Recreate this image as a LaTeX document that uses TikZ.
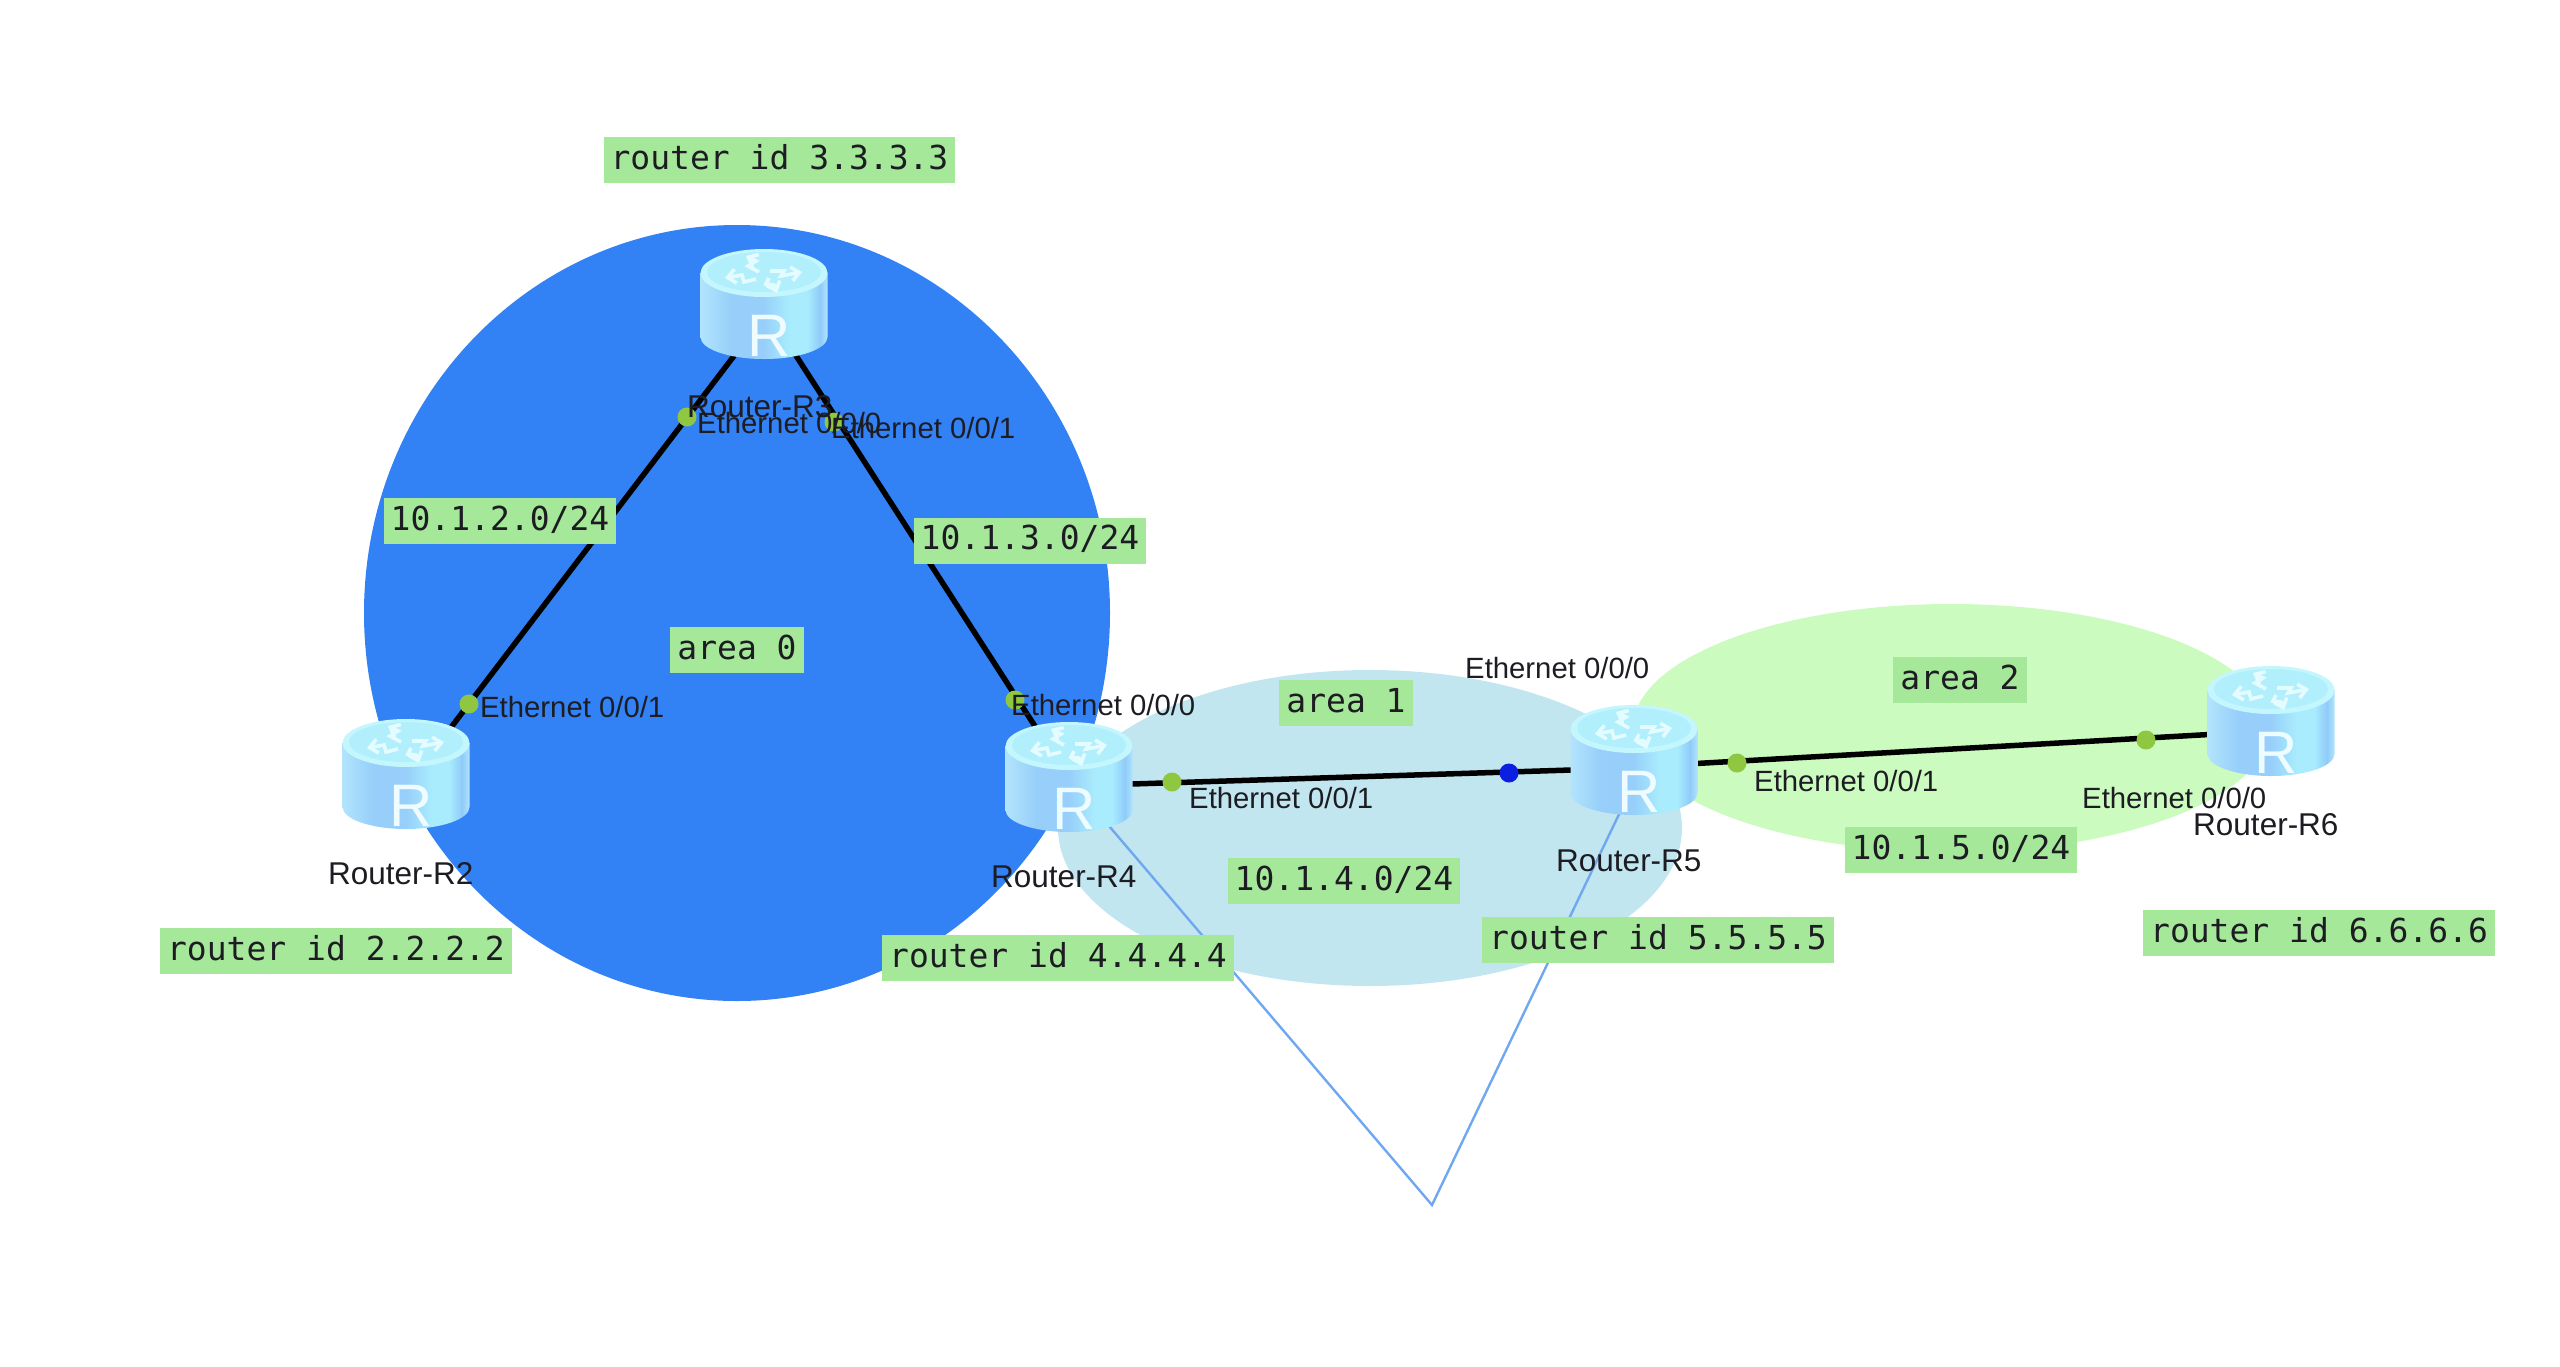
\documentclass[tikz,border=0pt]{standalone}
\usepackage{fontspec}
\setmainfont{Liberation Sans}
\newfontfamily\labelmono{DejaVu Sans Mono}
\usetikzlibrary{shapes.geometric,arrows.meta}
\definecolor{areazero}{HTML}{3282F6}
\definecolor{areaone}{HTML}{C1E6EF}
\definecolor{areatwo}{HTML}{CCFBC0}
\definecolor{labelgreen}{HTML}{A6E89A}
\definecolor{dotgreen}{HTML}{8FC740}
\definecolor{dotblue}{HTML}{0A1FE0}
\definecolor{thinblue}{HTML}{6FA8F0}
\definecolor{inktext}{HTML}{1C1C22}
\definecolor{bodyedge}{HTML}{B2E4FC}
\definecolor{bodymid}{HTML}{97CFFA}
\definecolor{bodylight}{HTML}{A9ECFD}
\definecolor{bodydark}{HTML}{8FCBF9}
\definecolor{toprim}{HTML}{C4F6FE}
\definecolor{topface}{HTML}{B2EFFD}
\definecolor{icoline}{HTML}{E4FCFF}
\definecolor{lettercol}{HTML}{EFFCFF}
\pgfdeclarehorizontalshading{routerbody}{100bp}{
  color(0bp)=(bodyedge);
  color(25bp)=(bodyedge);
  color(37bp)=(bodymid);
  color(50bp)=(bodymid);
  color(60bp)=(bodylight);
  color(67bp)=(bodylight);
  color(72bp)=(bodydark);
  color(75bp)=(bodyedge);
  color(100bp)=(bodyedge)}
\tikzset{
  x=1pt,y=-1pt,
  areashape/.style={ellipse,inner sep=0pt,draw=none},
  link/.style={draw=black,line width=5.5pt},
  thinlink/.style={draw=thinblue,line width=2.4pt},
  routerbox/.style={rectangle,minimum width=127pt,minimum height=113pt,inner sep=0pt,draw=none},
  portdot/.style={circle,minimum size=19pt,inner sep=0pt,fill=dotgreen,draw=none},
  tag/.style={rectangle,fill=labelgreen,text=inktext,font=\labelmono\fontsize{33}{36}\selectfont,
    minimum height=46pt,inner xsep=7pt,inner ysep=0pt,text height=24pt,text depth=6pt},
  iface/.style={anchor=west,inner sep=0pt,text=inktext,font=\fontsize{29.3}{31}\selectfont},
  rname/.style={anchor=west,inner sep=0pt,text=inktext,font=\fontsize{31.5}{33}\selectfont},
  rletter/.style={inner sep=0pt,text=lettercol,font=\fontsize{60}{62}\selectfont},
  icoarrow/.style={draw=icoline,line width=3.6pt,-{Straight Barb[length=8pt,width=14pt]}},
  routericon/.pic={
    \path[shading=routerbody] (-63.5,-33) -- (-63.5,31)
      arc[start angle=180,end angle=360,x radius=63.5pt,y radius=22pt]
      -- (63.5,-33) -- cycle;
    \fill[toprim] (0,-33) ellipse[x radius=63.5pt,y radius=24pt];
    \fill[topface] (0,-34) ellipse[x radius=57pt,y radius=20pt];
    \draw[icoarrow] (-5,-34) -- (-16,-40) -- (-8,-45) -- (-18,-50);
    \draw[icoarrow] (6,-35) -- (20,-35) -- (17,-30) -- (38,-34);
    \draw[icoarrow] (-8,-27) -- (-20,-24) -- (-22,-31) -- (-39,-28);
    \draw[icoarrow] (5,-28) -- (2,-22) -- (10,-21) -- (13,-13);
  }
}
\begin{document}
\begin{tikzpicture}
\useasboundingbox (0,0) rectangle (2560,1366);
% OSPF areas
\node[areashape,fill=areazero,minimum width=746pt,minimum height=776pt] (area0shape) at (737,613) {};
\node[areashape,fill=areaone,minimum width=624pt,minimum height=316pt] (area1shape) at (1370,828) {};
\node[areashape,fill=areatwo,minimum width=636pt,minimum height=248pt] (area2shape) at (1951,728) {};
% router anchors
\node[routerbox] (r3) at (764,306) {};
\node[routerbox] (r2) at (406,776) {};
\node[routerbox] (r4) at (1069,779) {};
\node[routerbox] (r5) at (1634,762) {};
\node[routerbox] (r6) at (2271,723) {};
\coordinate (apex) at (1432,1205);
% thin lines
\draw[thinlink] (r4.center) -- (apex) -- ([xshift=10pt]r5.center);
% links
\draw[link] ([xshift=8pt]r3.center) -- ([xshift=8pt]r2.center);
\draw[link] (r3.center) -- (r4.center);
\draw[link] ([yshift=-7pt]r4.center) -- ([yshift=-6pt]r5.center);
\draw[link] ([yshift=-5pt]r5.center) -- ([yshift=-8pt]r6.center);
% router icons
\foreach \n in {r2,r3,r4,r5,r6}{
  \path (\n.center) pic {routericon};
  \node[rletter] (\n letter) at ([xshift=5pt,yshift=-30pt]\n.center) {R};
}
% port dots
\node[portdot] (p3a) at (687,417) {};
\node[portdot] (p3b) at (834,422) {};
\node[portdot] (p2a) at (469,704) {};
\node[portdot] (p4a) at (1015,700) {};
\node[portdot] (p4b) at (1172,782) {};
\node[portdot,fill=dotblue] (p5a) at (1509,773) {};
\node[portdot] (p5b) at (1737,763) {};
\node[portdot] (p6a) at (2146,740) {};
% tags
\node[tag] (rid3) at (779.5,160) {router id 3.3.3.3};
\node[tag] (rid2) at (336,951) {router id 2.2.2.2};
\node[tag] (rid4) at (1058,958) {router id 4.4.4.4};
\node[tag] (rid5) at (1658,940) {router id 5.5.5.5};
\node[tag] (rid6) at (2319,933) {router id 6.6.6.6};
\node[tag] (area0) at (737,650) {area 0};
\node[tag] (area1) at (1346,703) {area 1};
\node[tag] (area2) at (1960,680) {area 2};
\node[tag] (net12) at (500,521) {10.1.2.0/24};
\node[tag] (net13) at (1030,540.5) {10.1.3.0/24};
\node[tag] (net14) at (1344,881) {10.1.4.0/24};
\node[tag] (net15) at (1961,850) {10.1.5.0/24};
% interface names
\node[rname] (n3) at (687,407) {Router-R3};
\node[iface] (i3a) at (697,423) {Ethernet 0/0/0};
\node[iface] (i3b) at (831,428) {Ethernet 0/0/1};
\node[iface] (i2a) at (480,707) {Ethernet 0/0/1};
\node[iface] (i4a) at (1011,705) {Ethernet 0/0/0};
\node[iface] (i4b) at (1189,798) {Ethernet 0/0/1};
\node[iface] (i5a) at (1465,668) {Ethernet 0/0/0};
\node[iface] (i5b) at (1754,781) {Ethernet 0/0/1};
\node[iface] (i6a) at (2082,798) {Ethernet 0/0/0};
\node[rname] (n2) at (328,874) {Router-R2};
\node[rname] (n4) at (991,877) {Router-R4};
\node[rname] (n5) at (1556,861) {Router-R5};
\node[rname] (n6) at (2193,825) {Router-R6};
\end{tikzpicture}
\end{document}
